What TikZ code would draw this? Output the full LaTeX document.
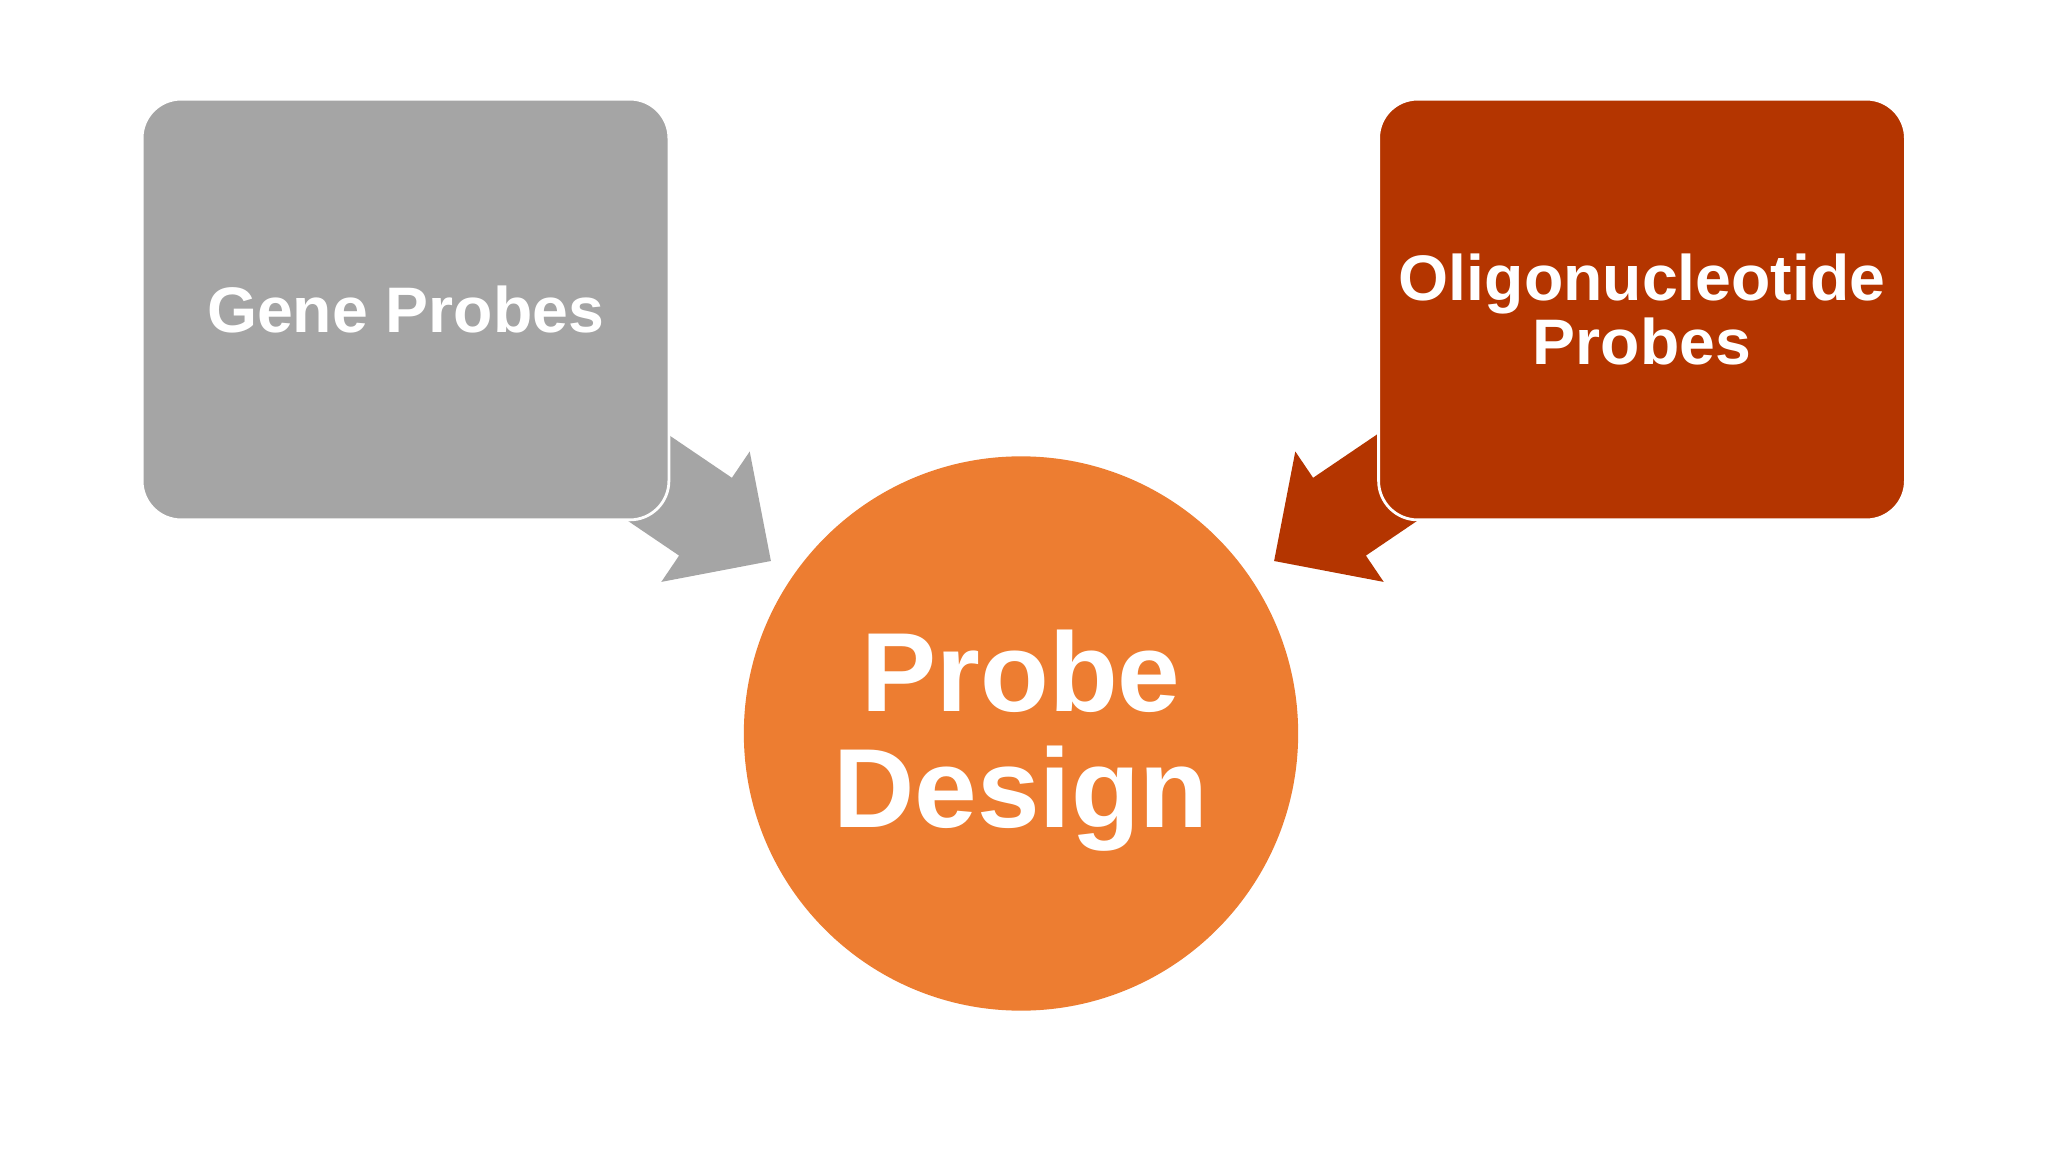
\documentclass[tikz,border=0pt]{standalone}
\usepackage{fontspec}
\setmainfont{Liberation Sans}
\definecolor{boxgray}{HTML}{A5A5A5}
\definecolor{boxred}{HTML}{B43500}
\definecolor{circorange}{HTML}{ED7D31}
\begin{document}
\begin{tikzpicture}[x=0.01cm,y=-0.01cm,
  box/.style={rectangle, rounded corners=0.39cm, draw=white, line width=0.8pt,
    minimum width=5.265cm, minimum height=4.205cm, text=white, align=center,
    font=\bfseries\fontsize{18.3}{18.3}\selectfont},
  hub/.style={circle, minimum size=5.54cm, inner sep=0pt, fill=circorange},
  hubtext/.style={text=white, align=center, inner sep=0pt,
    font=\bfseries\fontsize{32}{33}\selectfont}]
\useasboundingbox (0,0) rectangle (2048,1152);
\fill[white] (0,0) rectangle (2048,1152);
% block arrows (drawn behind the boxes)
\fill[boxgray] (607.7,393.6) -- (731.9,477.8) -- (749.7,451.5) -- (770.9,561.0)
  -- (661.3,581.9) -- (679.1,555.6) -- (554.9,471.4) -- cycle;
\fill[boxred] (1437.3,393.6) -- (1313.1,477.8) -- (1295.3,451.5) -- (1274.1,561.0)
  -- (1383.7,581.9) -- (1365.9,555.6) -- (1490.1,471.4) -- cycle;
% nodes
\node[box, fill=boxgray] (gene) at (405.5,309.5) {Gene Probes};
\node[box, fill=boxred] (oligo) at (1642,309.5) {Oligonucleotide\\Probes};
\node[hub, label={[hubtext, yshift=-0.072cm]center:Probe\\Design}] (design) at (1021,733.5) {};
\end{tikzpicture}
\end{document}
